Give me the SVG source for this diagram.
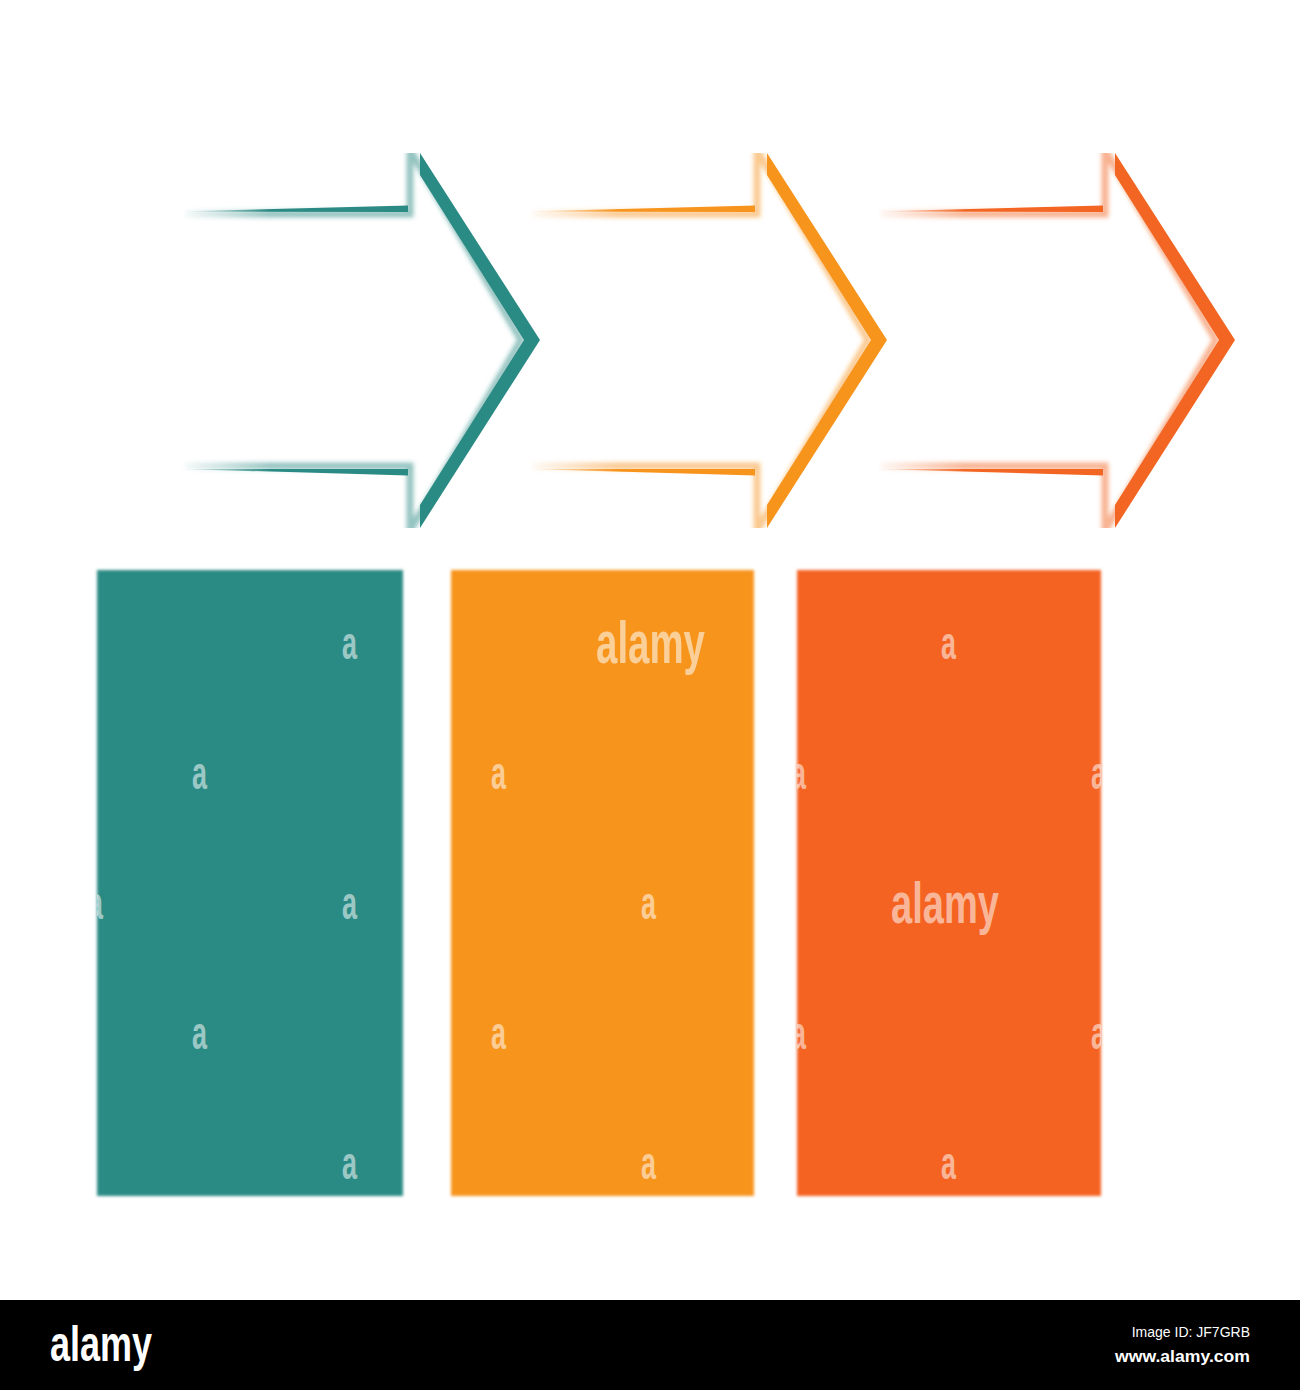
<svg xmlns="http://www.w3.org/2000/svg" width="1300" height="1390" viewBox="0 0 1300 1390">
<defs>
<style>
.wm { font-family: "Liberation Sans", Arial, sans-serif; font-weight: bold; fill: #ffffff; fill-opacity: 0.55; }
.logo { font-family: "Liberation Sans", Arial, sans-serif; font-weight: bold; fill: #ffffff; }
.small { font-family: "Liberation Sans", Arial, sans-serif; fill: #ffffff; }
.glow { fill: none; stroke-width: 7; stroke-opacity: 0.5; stroke-linejoin: miter; }
</style>
<filter id="soft" x="-5%" y="-5%" width="110%" height="110%"><feGaussianBlur stdDeviation="1.6"/></filter>
<filter id="edge" x="-10%" y="-10%" width="120%" height="120%"><feGaussianBlur stdDeviation="0.5"/></filter>
<filter id="blur" x="-20%" y="-20%" width="140%" height="140%"><feGaussianBlur stdDeviation="2"/></filter>
<linearGradient id="fade" gradientUnits="userSpaceOnUse" x1="175" y1="0" x2="270" y2="0">
<stop offset="0" stop-color="#ffffff" stop-opacity="0"/>
<stop offset="1" stop-color="#ffffff" stop-opacity="1"/>
</linearGradient>
<mask id="fadeMask" maskUnits="userSpaceOnUse" x="150" y="153" width="420" height="375">
<rect x="150" y="153" width="420" height="375" fill="url(#fade)"/>
</mask>
<clipPath id="clipTeal"><rect x="97" y="570" width="306" height="626"/></clipPath>
<clipPath id="clipRed"><rect x="797" y="570" width="304" height="626"/></clipPath>
</defs>
<rect x="0" y="0" width="1300" height="1390" fill="#ffffff"/>

<g id="connectors">
<g id="arrow1" transform="translate(0,0)">
<g mask="url(#fadeMask)">
<path class="glow" stroke="#2c8a84" filter="url(#blur)" d="M185,214 L410,214 L410,150 L521,340 L410,531 L410,466 L185,466"/>
<polygon fill="#2c8a84" filter="url(#edge)" points="420,153 540,340 420,528 420,505 524,340 420,175"/>
<polygon fill="#2c8a84" points="180,211.5 408,205.5 408,212"/>
<polygon fill="#2c8a84" points="180,469 408,469 408,475.5"/>
</g>
</g>
<g id="arrow2" transform="translate(347,0)">
<g mask="url(#fadeMask)">
<path class="glow" stroke="#f7941e" filter="url(#blur)" d="M185,214 L410,214 L410,150 L521,340 L410,531 L410,466 L185,466"/>
<polygon fill="#f7941e" filter="url(#edge)" points="420,153 540,340 420,528 420,505 524,340 420,175"/>
<polygon fill="#f7941e" points="180,211.5 408,205.5 408,212"/>
<polygon fill="#f7941e" points="180,469 408,469 408,475.5"/>
</g>
</g>
<g id="arrow3" transform="translate(695,0)">
<g mask="url(#fadeMask)">
<path class="glow" stroke="#f26522" filter="url(#blur)" d="M185,214 L410,214 L410,150 L521,340 L410,531 L410,466 L185,466"/>
<polygon fill="#f26522" filter="url(#edge)" points="420,153 540,340 420,528 420,505 524,340 420,175"/>
<polygon fill="#f26522" points="180,211.5 408,205.5 408,212"/>
<polygon fill="#f26522" points="180,469 408,469 408,475.5"/>
</g>
</g>
</g>

<g id="box1">
<rect x="97" y="570" width="306" height="626" fill="#2c8a84" filter="url(#soft)"/>
<text class="wm" x="342" y="659" font-size="46" textLength="15" lengthAdjust="spacingAndGlyphs">a</text>
<text class="wm" x="192" y="789" font-size="46" textLength="15" lengthAdjust="spacingAndGlyphs">a</text>
<text class="wm" x="342" y="919" font-size="46" textLength="15" lengthAdjust="spacingAndGlyphs">a</text>
<text class="wm" x="192" y="1049" font-size="46" textLength="15" lengthAdjust="spacingAndGlyphs">a</text>
<text class="wm" x="342" y="1179" font-size="46" textLength="15" lengthAdjust="spacingAndGlyphs">a</text>
<text class="wm" x="88" y="919" font-size="46" textLength="15" lengthAdjust="spacingAndGlyphs" clip-path="url(#clipTeal)">a</text>
</g>

<g id="box2">
<rect x="451" y="570" width="303" height="626" fill="#f7941e" filter="url(#soft)"/>
<text class="wm" x="596" y="663" font-size="60" textLength="109" lengthAdjust="spacingAndGlyphs">alamy</text>
<text class="wm" x="491" y="789" font-size="46" textLength="15" lengthAdjust="spacingAndGlyphs">a</text>
<text class="wm" x="641" y="919" font-size="46" textLength="15" lengthAdjust="spacingAndGlyphs">a</text>
<text class="wm" x="491" y="1049" font-size="46" textLength="15" lengthAdjust="spacingAndGlyphs">a</text>
<text class="wm" x="641" y="1179" font-size="46" textLength="15" lengthAdjust="spacingAndGlyphs">a</text>
</g>

<g id="box3">
<rect x="797" y="570" width="304" height="626" fill="#f46424" filter="url(#soft)"/>
<text class="wm" x="941" y="659" font-size="46" textLength="15" lengthAdjust="spacingAndGlyphs">a</text>
<text class="wm" x="791" y="789" font-size="46" textLength="15" lengthAdjust="spacingAndGlyphs" clip-path="url(#clipRed)">a</text>
<text class="wm" x="1091" y="789" font-size="46" textLength="15" lengthAdjust="spacingAndGlyphs" clip-path="url(#clipRed)">a</text>
<text class="wm" x="891" y="923" font-size="58" textLength="108" lengthAdjust="spacingAndGlyphs">alamy</text>
<text class="wm" x="791" y="1049" font-size="46" textLength="15" lengthAdjust="spacingAndGlyphs" clip-path="url(#clipRed)">a</text>
<text class="wm" x="1091" y="1049" font-size="46" textLength="15" lengthAdjust="spacingAndGlyphs" clip-path="url(#clipRed)">a</text>
<text class="wm" x="941" y="1179" font-size="46" textLength="15" lengthAdjust="spacingAndGlyphs">a</text>
</g>

<g id="footer">
<rect x="0" y="1300" width="1300" height="90" fill="#000000"/>
<text class="logo" x="50" y="1361" font-size="50" textLength="102" lengthAdjust="spacingAndGlyphs">alamy</text>
<text class="small" x="1250" y="1337" font-size="14" text-anchor="end">Image ID: JF7GRB</text>
<text class="small" x="1250" y="1362" font-size="17" font-weight="bold" text-anchor="end" textLength="135" lengthAdjust="spacingAndGlyphs">www.alamy.com</text>
</g>
</svg>
